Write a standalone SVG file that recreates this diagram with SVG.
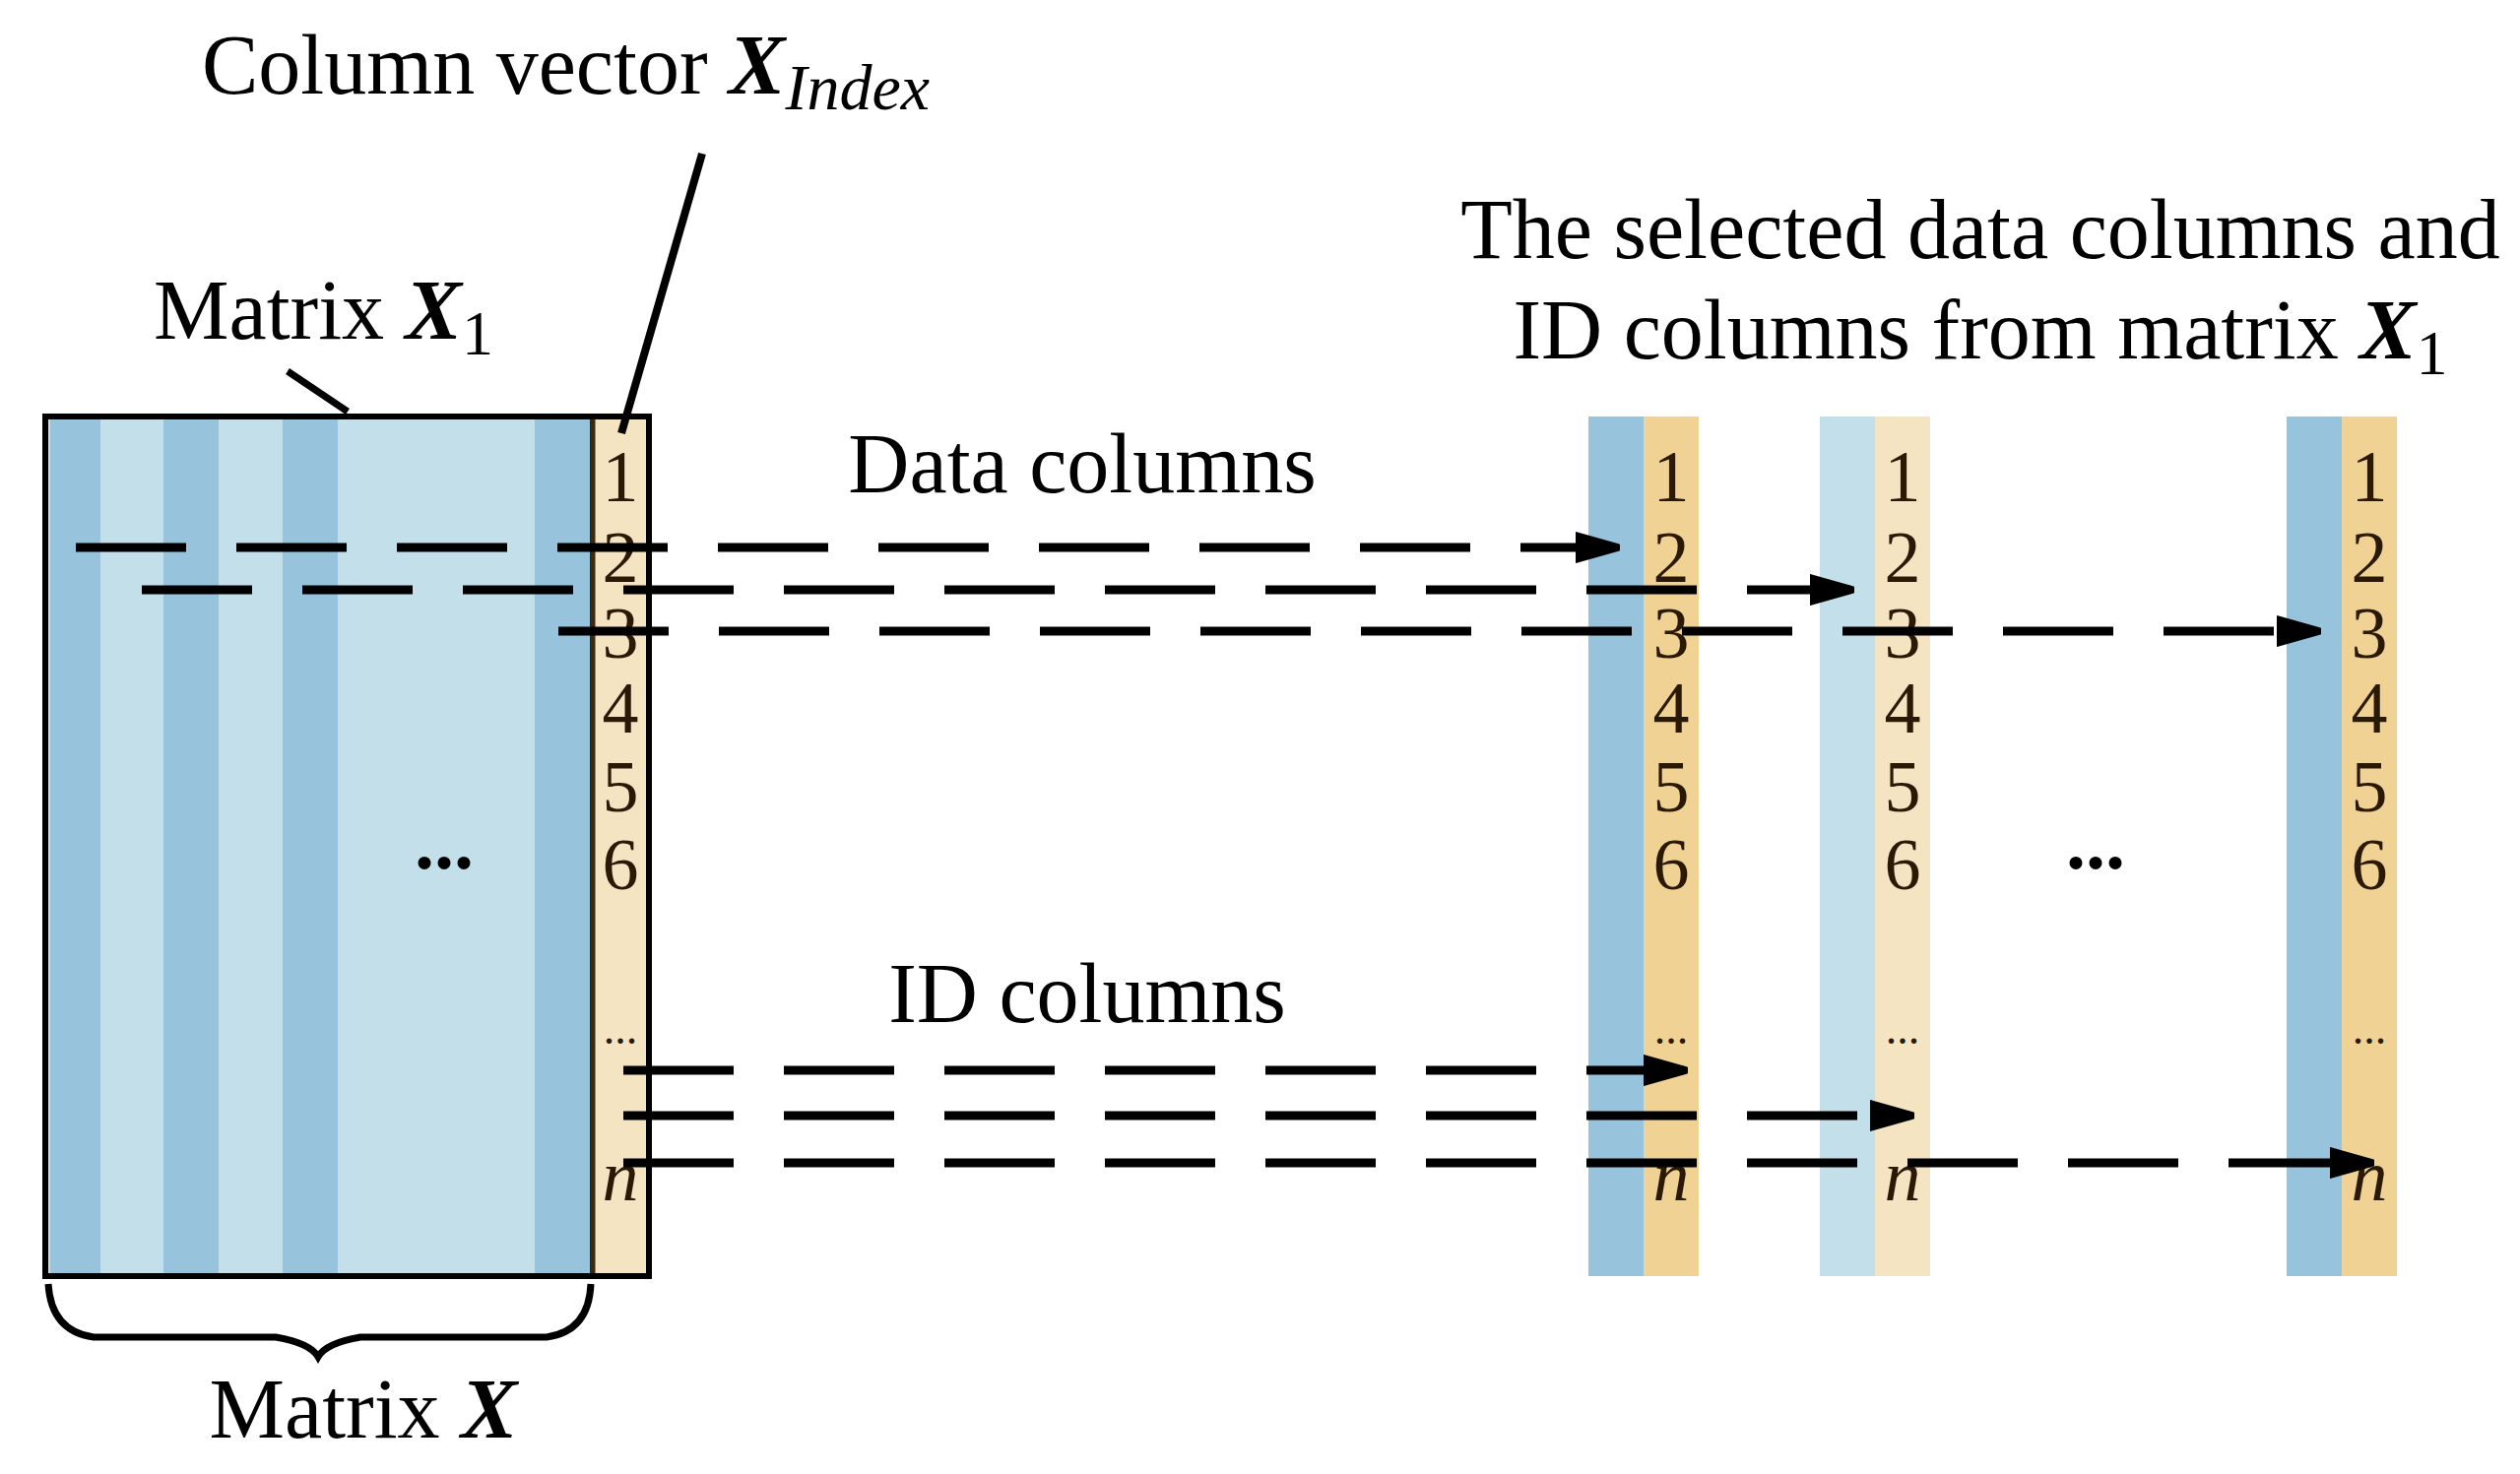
<svg xmlns="http://www.w3.org/2000/svg" width="2559" height="1497" viewBox="0 0 2559 1497">
<defs>
<style>
text{font-family:"Liberation Serif","Times New Roman",serif;fill:#000}
.t{font-size:86px}
.n{font-size:74px;fill:#2a1a05;text-anchor:middle}
.dk{fill:#97c4dc}.lt{fill:#c2dfea}.tan{fill:#f0d294}.ltan{fill:#f5e4c2}
.dash{stroke:#000;stroke-width:9;stroke-dasharray:112 51;fill:none}
</style>
<marker id="ah" markerWidth="5" markerHeight="3.6" refX="4.5" refY="1.8" orient="auto" markerUnits="strokeWidth"><path d="M0,0 L5,1.4 Q5.3,1.8 5,2.2 L0,3.6 Z" fill="#000"/></marker>
</defs>
<rect width="2559" height="1497" fill="#fff"/>
<g id="matrix">
<rect x="46" y="423" width="556" height="873" class="lt" stroke="#0a2535" stroke-width="6"/>
<rect x="51" y="426" width="51" height="867" class="dk"/>
<rect x="166" y="426" width="56" height="867" class="dk"/>
<rect x="287" y="426" width="56" height="867" class="dk"/>
<rect x="543" y="426" width="56" height="867" class="dk"/>
<rect x="602" y="423" width="57" height="873" class="ltan" stroke="#3a2a10" stroke-width="5"/>
<rect x="46" y="423" width="613" height="873" fill="none" stroke="#000" stroke-width="6"/>
<text x="451" y="882" style="font-size:80px;font-weight:bold" text-anchor="middle">...</text>
</g>
<g id="index">
<text x="630" y="509" class="n">1</text><text x="630" y="591" class="n">2</text><text x="630" y="668" class="n">3</text><text x="630" y="744" class="n">4</text><text x="630" y="824" class="n">5</text><text x="630" y="903" class="n">6</text><text x="630" y="1060" class="n" style="font-size:46px">...</text><text x="630" y="1219" class="n" font-style="italic">n</text>
</g>
<g id="col1">
<rect x="1613" y="423" width="56" height="873" class="dk"/><rect x="1669" y="423" width="56" height="873" class="tan"/>
<text x="1697" y="509" class="n">1</text><text x="1697" y="591" class="n">2</text><text x="1697" y="668" class="n">3</text><text x="1697" y="744" class="n">4</text><text x="1697" y="824" class="n">5</text><text x="1697" y="903" class="n">6</text><text x="1697" y="1060" class="n" style="font-size:46px">...</text><text x="1697" y="1219" class="n" font-style="italic">n</text>
</g>
<g id="col2">
<rect x="1848" y="423" width="56" height="873" class="lt"/><rect x="1904" y="423" width="56" height="873" class="ltan"/>
<text x="1932" y="509" class="n">1</text><text x="1932" y="591" class="n">2</text><text x="1932" y="668" class="n">3</text><text x="1932" y="744" class="n">4</text><text x="1932" y="824" class="n">5</text><text x="1932" y="903" class="n">6</text><text x="1932" y="1060" class="n" style="font-size:46px">...</text><text x="1932" y="1219" class="n" font-style="italic">n</text>
</g>
<g id="col3">
<rect x="2322" y="423" width="56" height="873" class="dk"/><rect x="2378" y="423" width="56" height="873" class="tan"/>
<text x="2406" y="509" class="n">1</text><text x="2406" y="591" class="n">2</text><text x="2406" y="668" class="n">3</text><text x="2406" y="744" class="n">4</text><text x="2406" y="824" class="n">5</text><text x="2406" y="903" class="n">6</text><text x="2406" y="1060" class="n" style="font-size:46px">...</text><text x="2406" y="1219" class="n" font-style="italic">n</text>
</g>
<text x="2128" y="882" style="font-size:80px;font-weight:bold" text-anchor="middle">...</text>
<g id="connectors">
<line x1="77" y1="556" x2="1640" y2="556" class="dash" marker-end="url(#ah)"/>
<line x1="144" y1="599" x2="1878" y2="599" class="dash" marker-end="url(#ah)"/>
<line x1="567" y1="641" x2="2352" y2="641" class="dash" marker-end="url(#ah)"/>
<line x1="633" y1="1087" x2="1709" y2="1087" class="dash" marker-end="url(#ah)"/>
<line x1="633" y1="1133" x2="1939" y2="1133" class="dash" marker-end="url(#ah)"/>
<line x1="633" y1="1181" x2="2406" y2="1181" class="dash" marker-end="url(#ah)"/>
<line x1="713" y1="156" x2="631" y2="440" stroke="#000" stroke-width="8"/>
<line x1="292" y1="377" x2="353" y2="418" stroke="#000" stroke-width="7"/>
<path d="M49,1304 Q52,1352 95,1358 L280,1358 Q315,1364 323,1378 Q331,1364 366,1358 L555,1358 Q598,1352 600,1304" fill="none" stroke="#000" stroke-width="7"/>
</g>
<g id="labels">
<text x="205" y="95" class="t">Column vector <tspan font-weight="bold" font-style="italic">X</tspan><tspan font-style="italic" font-size="66" dy="16">Index</tspan></text>
<text x="156" y="344" class="t">Matrix <tspan font-weight="bold" font-style="italic">X</tspan><tspan font-size="64" dy="16">1</tspan></text>
<text x="2011" y="262" class="t" text-anchor="middle" font-size="88">The selected data columns and</text>
<text x="2011" y="364" class="t" text-anchor="middle" font-size="88">ID columns from matrix <tspan font-weight="bold" font-style="italic">X</tspan><tspan font-size="64" dy="16">1</tspan></text>
<text x="1099" y="500" class="t" text-anchor="middle">Data columns</text>
<text x="1104" y="1038" class="t" text-anchor="middle">ID columns</text>
<text x="369" y="1460" class="t" text-anchor="middle">Matrix <tspan font-weight="bold" font-style="italic">X</tspan></text>
</g>
</svg>
